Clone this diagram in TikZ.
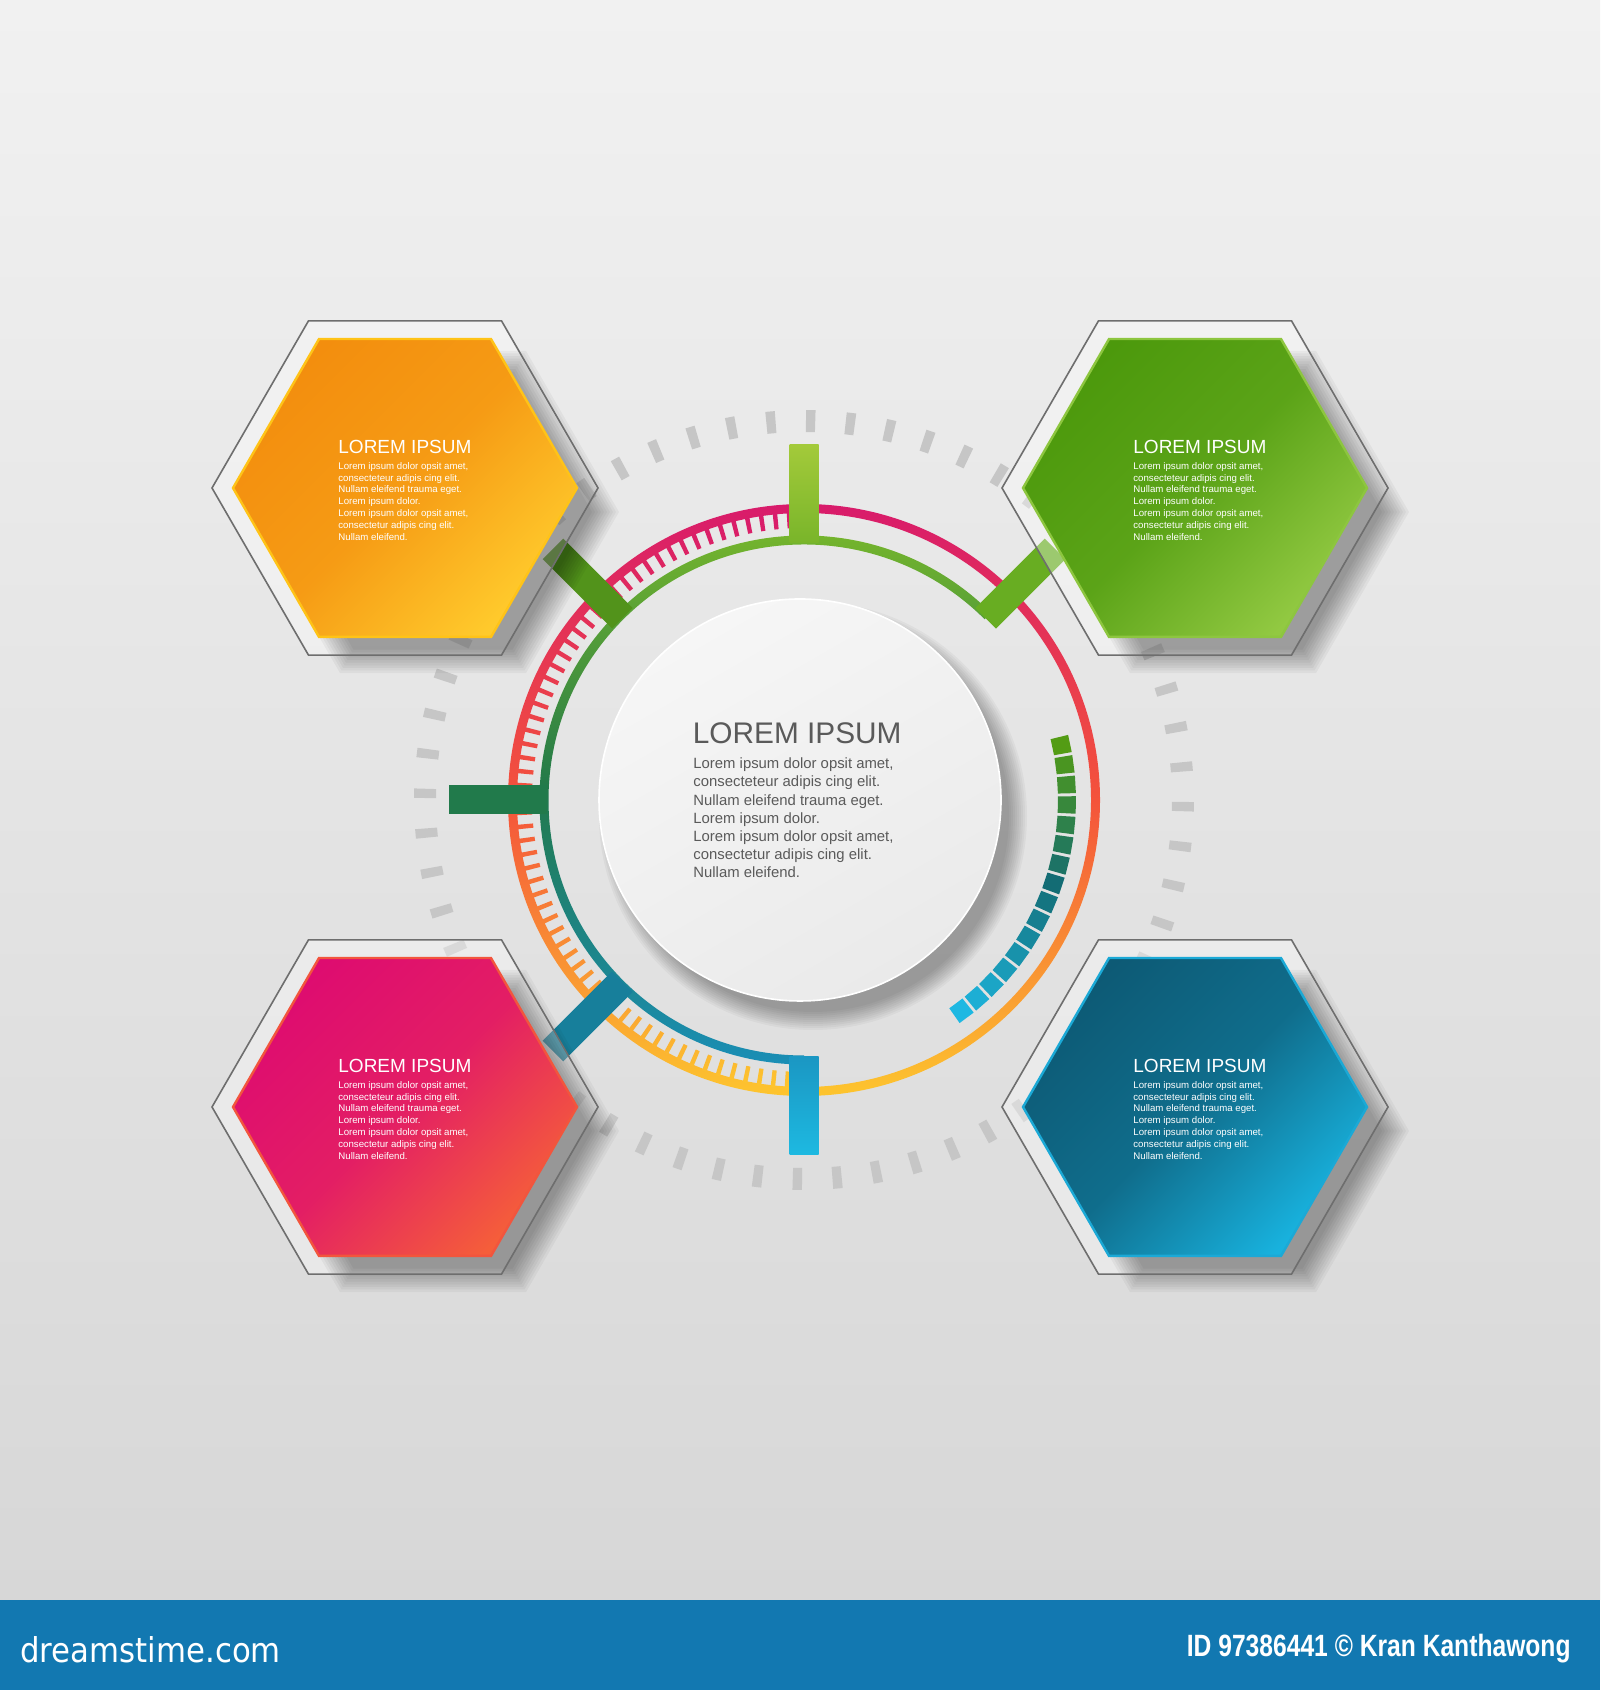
\documentclass[tikz,border=0pt]{standalone}
\usepackage{fontspec}
\usepackage{graphicx}
\setmainfont{Liberation Sans}
\newfontfamily\logofont{DejaVu Sans}
\usetikzlibrary{calc}

\definecolor{bgTop}{HTML}{F1F1F1}
\definecolor{bgBot}{HTML}{D7D7D7}
\definecolor{banner}{HTML}{1278B1}
\definecolor{tickGray}{HTML}{C6C6C6}
\definecolor{plateGray}{HTML}{6E6E6E}
\definecolor{textGray}{HTML}{5A5A5A}
\definecolor{ringTop}{HTML}{D81B6B}
\definecolor{ringMid}{HTML}{F4533B}
\definecolor{ringBot}{HTML}{FDC52E}
\definecolor{innerTop}{HTML}{7CBA2A}
\definecolor{innerMid}{HTML}{22794A}
\definecolor{innerBot}{HTML}{1A8EB6}
\definecolor{segTop}{HTML}{539C14}
\definecolor{segMid}{HTML}{136C74}
\definecolor{segBot}{HTML}{1EB8E2}
\definecolor{barNE}{HTML}{68AD22}
\definecolor{barNW}{HTML}{52931B}
\definecolor{barW}{HTML}{217A4B}
\definecolor{barSW}{HTML}{177F9B}
\definecolor{barNtop}{HTML}{A3CA3A}
\definecolor{barNbot}{HTML}{79B52A}
\definecolor{barStop}{HTML}{1B97C3}
\definecolor{barSbot}{HTML}{1DB9E1}
\definecolor{discTop}{HTML}{F6F6F6}
\definecolor{discBot}{HTML}{EAEAEA}
\definecolor{orangeDark}{HTML}{F38E0E}
\definecolor{orangeLight}{HTML}{FFCA2C}
\definecolor{orangeEdge}{HTML}{FFC317}
\definecolor{greenDark}{HTML}{4C990C}
\definecolor{greenLight}{HTML}{92C942}
\definecolor{greenEdge}{HTML}{8DC63F}
\definecolor{pinkDark}{HTML}{DE0C70}
\definecolor{pinkLight}{HTML}{F55E3A}
\definecolor{pinkEdge}{HTML}{F2553D}
\definecolor{tealDark}{HTML}{0D5A75}
\definecolor{tealLight}{HTML}{18B2DE}
\definecolor{tealEdge}{HTML}{1BA9D6}

\newcommand{\hexpath}[1]{(0:#1) -- (60:#1) -- (120:#1) -- (180:#1) -- (240:#1) -- (300:#1) -- cycle}
\newcommand{\loremtext}{Lorem ipsum dolor opsit amet,\\ consecteteur adipis cing elit.\\ Nullam eleifend trauma eget.\\ Lorem ipsum dolor.\\ Lorem ipsum dolor opsit amet,\\ consectetur adipis cing elit.\\ Nullam eleifend.}
% #1 name, #2 centre, #3 dark, #4 light, #5 edge, #6 text offset
\newcommand{\hexcard}[6]{%
  \begin{scope}[shift={#2}]
    \fill[white, opacity=0.35] \hexpath{193};
    \foreach \s in {0,...,9} {
        \pgfmathsetmacro{\hr}{186-3*\s}
        \fill[black, opacity=0.04, shift={(28,-24)}] \hexpath{\hr};
    }
    \draw[plate] \hexpath{193};
    \shadedraw[top color=#3, bottom color=#4, middle color=#3!78!#4, shading angle=45, draw=#5, line width=1.2pt] \hexpath{172};
    \node[hextitle] (#1title) at (#6,34) {LOREM IPSUM};
    \node[hextext] (#1text) at (#6,26) {\loremtext};
  \end{scope}}

\begin{document}
\begin{tikzpicture}[x=0.5pt, y=0.5pt,
    plate/.style={draw=plateGray, line width=0.8pt},
    hextitle/.style={anchor=base west, inner sep=0pt, text=white, font=\fontsize{9.5}{11}\selectfont},
    hextext/.style={anchor=north west, inner sep=0pt, align=left, text=white, font=\fontsize{4.83}{5.9}\selectfont}]
    \useasboundingbox (0,0) rectangle (1600,1690);
    % Draw the background and the banner
    \shade[top color=bgTop, bottom color=bgBot] (0,90) rectangle (1600,1690);
    \fill[banner] (0,0) rectangle (1600,90);
    \coordinate (ctr) at (804,890);
    \coordinate (disc) at (800,890);

    \begin{scope}[shift={(ctr)}]
    % Draw the dashed outer ring
    \foreach \n in {0,...,59} {
        \pgfmathsetmacro{\ang}{89+6*\n}
        \fill[tickGray] (\ang-0.7:368) -- (\ang+0.7:368) -- (\ang+0.7:390) -- (\ang-0.7:390) -- cycle;
    }

    % Draw the coloured ring and its comb
    \shade[top color=ringTop, bottom color=ringBot, middle color=ringMid, even odd rule] (0,0) circle (296) (0,0) circle (287);
    \shade[top color=ringTop, bottom color=ringBot, middle color=ringMid] foreach \n in {0,...,62} {(93+2.8*\n-0.45:272) -- (93+2.8*\n+0.45:272) -- (93+2.8*\n+0.45:289) -- (93+2.8*\n-0.45:289) -- cycle};

    % Inner ring
    \shade[top color=innerTop, bottom color=innerBot, middle color=innerMid] (45:264.5) arc[start angle=45, end angle=270, radius=264.5] -- (270:255.5) arc[start angle=270, end angle=45, radius=255.5] -- cycle;

    % Segmented gauge on the right
    \foreach \n in {0,...,15} {
        \pgfmathtruncatemacro{\p}{\n<8 ? \n*100/7 : (\n-7)*100/8}
        \ifnum\n<8 \colorlet{segc}{segMid!\p!segTop}\else\colorlet{segc}{segBot!\p!segMid}\fi
        \pgfmathsetmacro{\ang}{12-\n*4.35}
        \fill[segc] (\ang-1.85:254) -- (\ang+1.85:254) -- (\ang+1.85:272) -- (\ang-1.85:272) -- cycle;
    }

    % Spokes
    \foreach \ang/\c in {45/barNE, 135/barNW, 180/barW, 225/barSW} {
        \fill[\c, rotate=\ang] (257,-14.5) rectangle (355,14.5);
    }
    \shade[top color=barNtop, bottom color=barNbot] (-14.5,257) rectangle (14.5,355);
    \shade[top color=barStop, bottom color=barSbot] (-14.5,-355) rectangle (14.5,-257);
    \end{scope}

    % Central disc with soft shadow
    \begin{scope}[shift={(disc)}]
    \foreach \s in {0,...,9} {
        \fill[black, opacity=0.035] (13,-16) circle ({214-2*\s});
    }
    \end{scope}
    \shade[top color=discTop, bottom color=discBot, shading angle=30] (disc) circle (201);
    \draw[white, line width=0.8pt] (disc) circle (201);
    \node[anchor=base west, inner sep=0pt, text=textGray, font=\fontsize{14.9}{17}\selectfont] (mainTitle) at (692.5,946.7) {LOREM IPSUM};
    \node[anchor=north west, inner sep=0pt, align=left, text=textGray, font=\fontsize{7.44}{9.1}\selectfont] (mainText) at (693,932.4) {\loremtext};

    % Hexagon cards
    \hexcard{orange}{(405,1202)}{orangeDark}{orangeLight}{orangeEdge}{-67}
    \hexcard{green}{(1195,1202)}{greenDark}{greenLight}{greenEdge}{-62}
    \hexcard{pink}{(405,583)}{pinkDark}{pinkLight}{pinkEdge}{-67}
    \hexcard{teal}{(1195,583)}{tealDark}{tealLight}{tealEdge}{-62}

    % Banner text
    \node[anchor=base west, inner sep=0pt, text=white, font=\logofont\fontsize{17.1}{20}\selectfont] (logo) at (20,27) {\scalebox{0.9}[1]{dreamstime.com}};
    \node[anchor=base east, inner sep=0pt, text=white, font=\bfseries\fontsize{15.4}{18}\selectfont] (credit) at (1571,33) {\scalebox{0.8}[1]{ID 97386441 © Kran Kanthawong}};
\end{tikzpicture}
\end{document}
